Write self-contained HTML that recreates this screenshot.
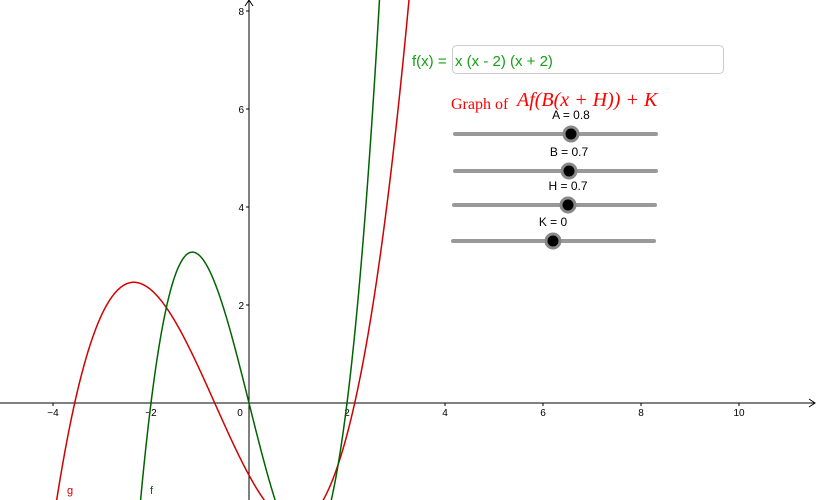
<!DOCTYPE html><html><head><style>html,body{margin:0;background:#fff;overflow:hidden;width:821px;height:500px}svg{display:block}</style></head><body>
<svg id="s" width="821" height="500" viewBox="0 0 821 500" style="font-family:'Liberation Sans',sans-serif">
<line x1="0" y1="403" x2="815" y2="403" stroke="#000" stroke-width="1"/>
<path d="M809 399 L815 403 L809 407" fill="none" stroke="#000"/>
<line x1="249" y1="0" x2="249" y2="500" stroke="#000"/>
<path d="M245 6 L249 0 L253 6" fill="none" stroke="#000"/>
<g font-size="10" fill="#000">
<text x="53" y="416" text-anchor="middle">−4</text>
<text x="151" y="416" text-anchor="middle">−2</text>
<text x="240" y="416" text-anchor="middle">0</text>
<text x="347" y="416" text-anchor="middle">2</text>
<text x="445" y="416" text-anchor="middle">4</text>
<text x="543" y="416" text-anchor="middle">6</text>
<text x="641" y="416" text-anchor="middle">8</text>
<text x="739" y="416" text-anchor="middle">10</text>
<text x="244" y="15" text-anchor="end">8</text>
<text x="244" y="113" text-anchor="end">6</text>
<text x="244" y="211" text-anchor="end">4</text>
<text x="244" y="309" text-anchor="end">2</text>
</g>
<g stroke="#000" stroke-width="1">
<line x1="53" y1="403" x2="53" y2="406"/><line x1="151" y1="403" x2="151" y2="406"/><line x1="347" y1="403" x2="347" y2="406"/><line x1="445" y1="403" x2="445" y2="406"/><line x1="543" y1="403" x2="543" y2="406"/><line x1="641" y1="403" x2="641" y2="406"/><line x1="739" y1="403" x2="739" y2="406"/>
<line x1="246" y1="11" x2="249" y2="11"/><line x1="246" y1="109" x2="249" y2="109"/><line x1="246" y1="207" x2="249" y2="207"/><line x1="246" y1="305" x2="249" y2="305"/>
</g>
<path id="g" fill="none" stroke="#d00000" stroke-width="1.5"/>
<path id="f" fill="none" stroke="#006400" stroke-width="1.5"/>
<text x="67" y="494" font-size="11" fill="#d00000">g</text>
<text x="150" y="494" font-size="11" fill="#006400">f</text>
<text x="412" y="66" font-size="15" fill="#14a014">f(x) =</text>
<rect x="452.5" y="45.5" width="271" height="28" rx="4" fill="#fff" stroke="#ccc"/>
<text x="455" y="66" font-size="15" fill="#14a014">x (x - 2) (x + 2)</text>
<text x="451" y="109" font-size="16" fill="#f00" style="font-family:'Liberation Serif',serif">Graph of</text>
<text x="517" y="106" font-size="20" fill="#f00" style="font-family:'Liberation Serif',serif;font-style:italic">Af(B(x + H)) + K</text>
<g font-size="12" fill="#000" text-anchor="middle">
<text x="571" y="119">A = 0.8</text><text x="569" y="156">B = 0.7</text><text x="568" y="190">H = 0.7</text><text x="553" y="226">K = 0</text>
</g>
<g stroke="#999" stroke-width="4" stroke-linecap="round">
<line x1="455" y1="134" x2="656" y2="134"/><line x1="455" y1="171" x2="656" y2="171"/><line x1="454" y1="205" x2="655" y2="205"/><line x1="453" y1="241" x2="654" y2="241"/>
</g>
<g fill="#000" stroke="#888" stroke-width="3">
<circle cx="571" cy="134" r="7"/><circle cx="569" cy="171" r="7"/><circle cx="568" cy="205" r="7"/><circle cx="553" cy="241" r="7"/>
</g>
</svg>
<script>
function f(x){return x*x*x-4*x}
function g(x){var u=0.7*(x+0.7);return 0.8*f(u)}
function mk(fn){var d="",first=true;for(var px=0;px<=821;px+=0.5){var x=(px-249)/49,y=403-49*fn(x);if(y<-50||y>550){first=true;continue}d+=(first?"M":"L")+px.toFixed(1)+" "+y.toFixed(1)+" ";first=false}return d}
document.getElementById("f").setAttribute("d",mk(f));
document.getElementById("g").setAttribute("d",mk(g));
</script>
</body></html>
